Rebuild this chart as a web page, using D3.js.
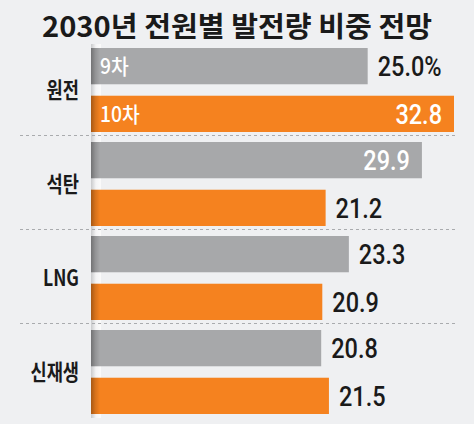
<!DOCTYPE html>
<html><head><meta charset="utf-8">
<script src="https://cdn.jsdelivr.net/npm/d3@7"></script>
<style>
html,body{margin:0;padding:0;background:#eff0f2;}
svg{display:block;}
</style></head>
<body>
<svg id="c" width="474" height="424"></svg>
<script>
const title = "2030년 전원별 발전량 비중 전망";
const categories = ["원전", "석탄", "LNG", "신재생"];
const seriesNames = ["9차", "10차"];
const plan9 = [25.0, 29.9, 23.3, 20.8];
const plan10 = [32.8, 21.2, 20.9, 21.5];
const valueLabels9 = ["25.0%", "29.9", "23.3", "20.8"];
const valueLabels10 = ["32.8", "21.2", "20.9", "21.5"];
const colors = ["#a7a8aa", "#f5821f"];

const W = 474, H = 424;
const svg = d3.select("#c");
const defs = svg.append("defs");

const gBar = defs.append("linearGradient").attr("id","barShade").attr("x1","0").attr("x2","1");
gBar.append("stop").attr("offset","0").attr("stop-color","#000").attr("stop-opacity",0.32);
gBar.append("stop").attr("offset","0.5").attr("stop-color","#000").attr("stop-opacity",0.12);
gBar.append("stop").attr("offset","1").attr("stop-color","#000").attr("stop-opacity",0);
const gCol = defs.append("linearGradient").attr("id","colShade").attr("x1","0").attr("x2","1");
gCol.append("stop").attr("offset","0").attr("stop-color","#c9cacc");
gCol.append("stop").attr("offset","0.5").attr("stop-color","#f4f4f5");
gCol.append("stop").attr("offset","1").attr("stop-color","#fbfbfb");

svg.append("rect").attr("width",W).attr("height",H).attr("fill","#eff0f2");

const x = d3.scaleLinear().domain([0, 32.8]).range([91, 454]);
const yGroup = d3.scaleBand().domain(categories).range([43, 419]).paddingInner(0).paddingOuter(0);
const ySub = d3.scaleBand().domain(seriesNames).range([5, yGroup.bandwidth()-5]).paddingInner(0.24);

// light column behind bars
svg.append("rect").attr("x",91).attr("y",44).attr("width",10).attr("height",374).attr("fill","url(#colShade)");

// title
svg.append("text").attr("x",W/2).attr("y",37).attr("text-anchor","middle")
  .attr("font-family","'Noto Sans CJK KR', sans-serif").attr("font-weight",700)
  .attr("font-size",28).attr("fill","#1a1a1a")
  .attr("textLength",390).attr("lengthAdjust","spacingAndGlyphs").text(title);

// dashed separators
categories.slice(1).forEach(c=>{
  const yy = yGroup(c) - 1.5;
  svg.append("line").attr("x1",20).attr("x2",455).attr("y1",yy).attr("y2",yy)
    .attr("stroke","#a9abae").attr("stroke-width",1).attr("stroke-dasharray","3,3");
});

function condensed(sel, sx, anchorX){
  sel.attr("transform",`translate(${anchorX},0) scale(${sx},1) translate(${-anchorX},0)`);
}

const rows = [];
categories.forEach((c,i)=>{
  rows.push({cat:c, s:seriesNames[0], v:plan9[i], lab:valueLabels9[i], col:colors[0], first:i===0});
  rows.push({cat:c, s:seriesNames[1], v:plan10[i], lab:valueLabels10[i], col:colors[1], first:i===0});
});

rows.forEach(r=>{
  const y0 = yGroup(r.cat) + ySub(r.s);
  const h = ySub.bandwidth();
  const w = x(r.v) - x(0);
  svg.append("rect").attr("x",x(0)).attr("y",y0).attr("width",w).attr("height",h).attr("fill",r.col);
  svg.append("rect").attr("x",x(0)).attr("y",y0).attr("width",9).attr("height",h).attr("fill","url(#barShade)");
  const cy = y0 + h/2;
  const inside = x(r.v) + 50 > 460;
  const t = svg.append("text")
    .attr("font-family","Roboto, 'Noto Sans', sans-serif").attr("font-weight",500)
    .attr("font-size",28).attr("y",cy+10)
    .attr("fill", inside ? "#ffffff" : "#1a1a1a").text(r.lab);
  if(inside){
    const ax = x(r.v) - 12;
    t.attr("x",ax).attr("text-anchor","end"); condensed(t,0.84,ax);
  } else {
    const ax = x(r.v) + 10;
    t.attr("x",ax).attr("text-anchor","start"); condensed(t,0.84,ax);
  }
  if(r.first){
    const st = svg.append("text").attr("x",100).attr("y",cy+8)
      .attr("font-family","'Noto Sans CJK KR', sans-serif").attr("font-weight",500)
      .attr("font-size",21).attr("fill","#ffffff").text(r.s);
    condensed(st,0.92,100);
  }
});

// category labels
categories.forEach(c=>{
  const cy = yGroup(c) + yGroup.bandwidth()/2;
  const t = svg.append("text").attr("x",79).attr("y",cy+8).attr("text-anchor","end")
    .attr("font-family","'Noto Sans CJK KR', sans-serif").attr("font-weight",700)
    .attr("font-size",22).attr("fill","#1a1a1a").text(c);
  condensed(t,0.8,79);
});
</script>
</body></html>
